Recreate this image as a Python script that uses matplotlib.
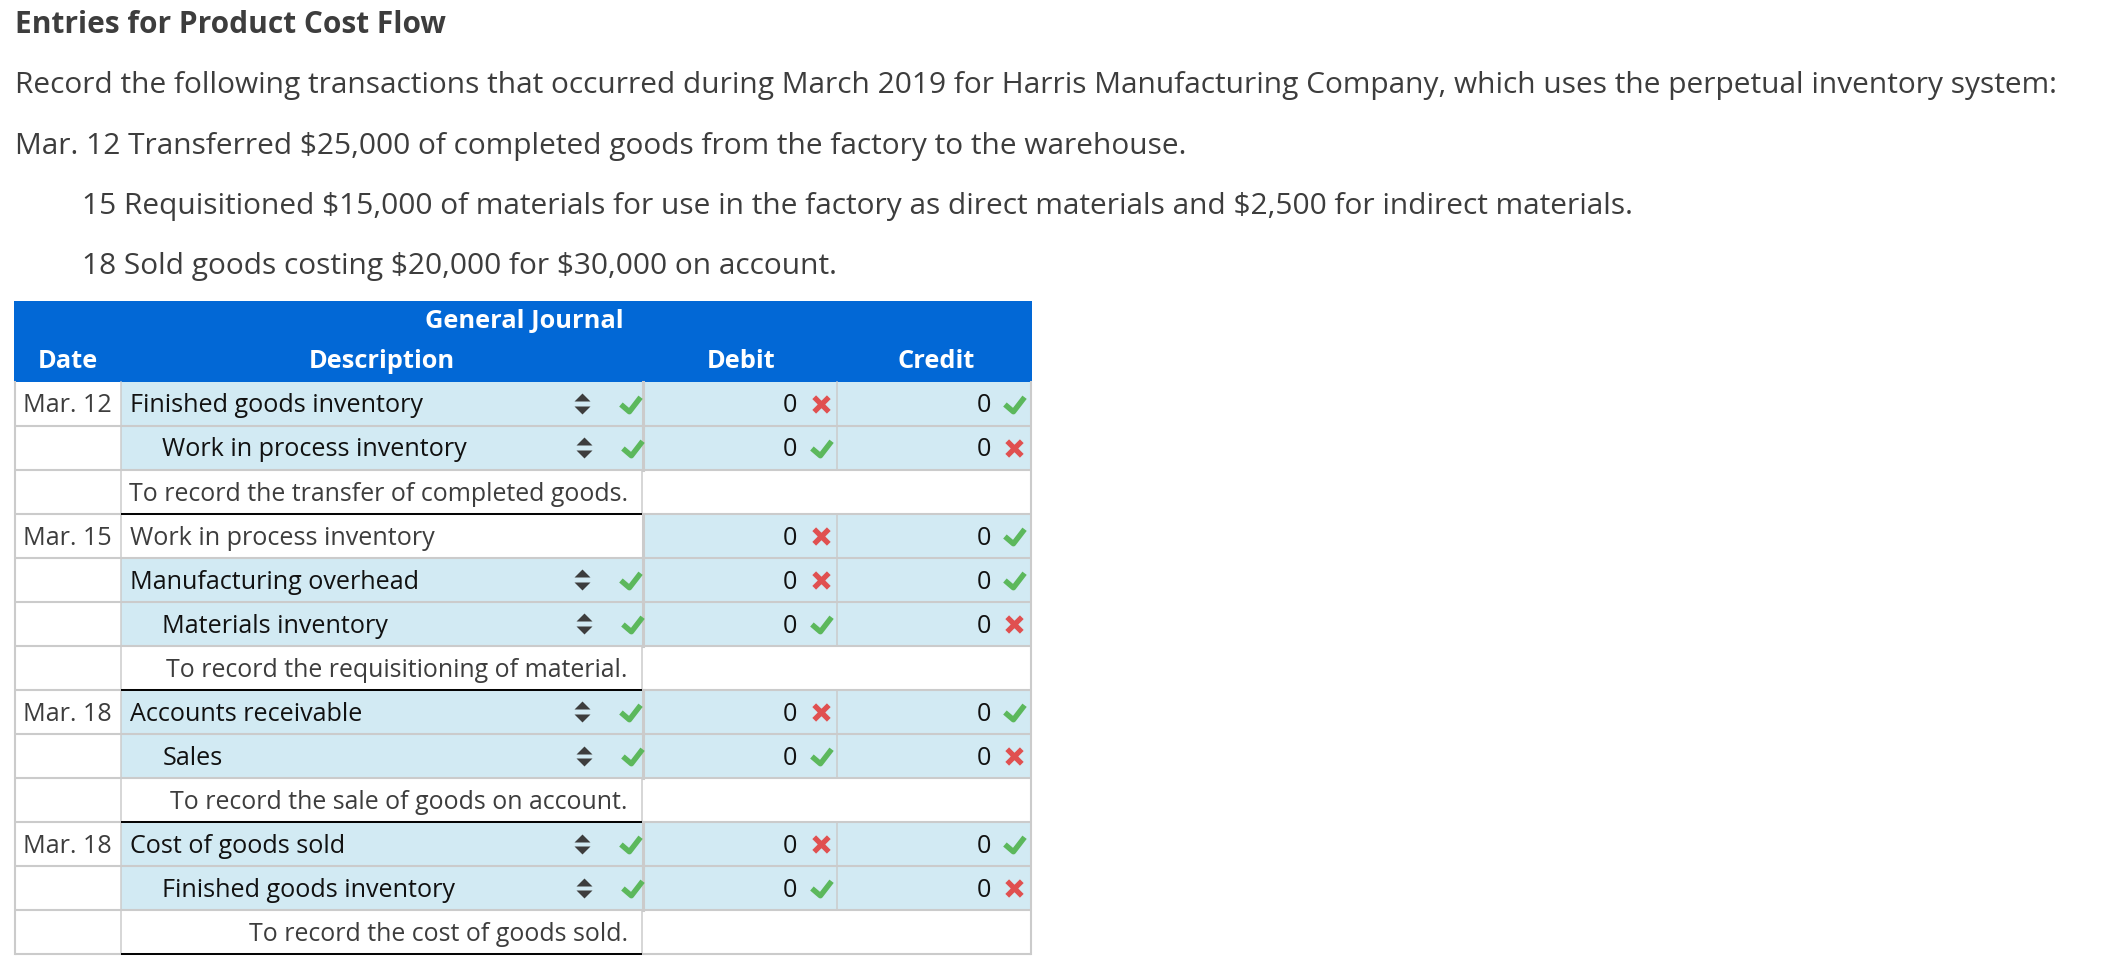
import matplotlib
matplotlib.use("Agg")
import matplotlib.pyplot as plt
from matplotlib.path import Path
from matplotlib.patches import Rectangle

plt.rcParams['font.family'] = ['Open Sans', 'DejaVu Sans']

W, H = 2112, 980
DARK = '#3d3d3d'
INK = '#111111'
BLUE_HEAD = '#0268d6'
CELL = '#d2eaf3'
GRID = '#cbcbcb'
GREEN = '#5cb85c'
RED = '#e05050'

heading = 'Entries for Product Cost Flow'
intro_lines = [
    'Record the following transactions that occurred during March 2019 for Harris Manufacturing Company, which uses the perpetual inventory system:',
    'Mar. 12 Transferred $25,000 of completed goods from the factory to the warehouse.',
    '15 Requisitioned $15,000 of materials for use in the factory as direct materials and $2,500 for indirect materials.',
    '18 Sold goods costing $20,000 for $30,000 on account.',
]

dates = ['Mar. 12', '', '', 'Mar. 15', '', '', '', 'Mar. 18', '', '', 'Mar. 18', '', '']
descriptions = [
    'Finished goods inventory', 'Work in process inventory', 'To record the transfer of completed goods.',
    'Work in process inventory', 'Manufacturing overhead', 'Materials inventory', 'To record the requisitioning of material.',
    'Accounts receivable', 'Sales', 'To record the sale of goods on account.',
    'Cost of goods sold', 'Finished goods inventory', 'To record the cost of goods sold.',
]
# 'a' account, 'i' indented account, 'f' fixed account (no dropdown), 'n' note
row_kinds = ['a', 'i', 'n', 'f', 'a', 'i', 'n', 'a', 'i', 'n', 'a', 'i', 'n']
debit_vals = ['0', '0', '', '0', '0', '0', '', '0', '0', '', '0', '0', '']
credit_vals = ['0', '0', '', '0', '0', '0', '', '0', '0', '', '0', '0', '']
debit_ok = [False, True, None, False, False, True, None, False, True, None, False, True, None]
credit_ok = [True, False, None, True, True, False, None, True, False, None, True, False, None]

# table grid, in pixels of the picture
X_LEFT, X_DATE, X_DESC, X_DEBIT, X_RIGHT = 15, 121, 642, 837, 1031
Y_HEAD, Y_BODY, ROW_H = 300.5, 381.6, 44.05

FS_INTRO = 21.52
FS_CELL = 18.05
FS_NOTE = 17.92
FS_HEAD = 18.3

CHECK = Path([(-0.95, 0), (-0.11, -0.72), (1, 0.72)], [Path.MOVETO, Path.LINETO, Path.LINETO])
CROSS = Path([(-1, -1), (1, 1), (-1, 1), (1, -1)], [Path.MOVETO, Path.LINETO, Path.MOVETO, Path.LINETO])
TRI_UP = Path([(-1, 0), (1, 0), (0, 1), (-1, 0)], closed=True)
TRI_DOWN = Path([(-1, 0), (1, 0), (0, -1), (-1, 0)], closed=True)


def draw_mark(ax, x, y, ok):
    if ok:
        ax.plot([x], [y], marker=CHECK, ms=14.5, mfc='none', mec=GREEN, mew=3.9, ls='none', zorder=5)
    else:
        ax.plot([x], [y], marker=CROSS, ms=10.5, mfc='none', mec=RED, mew=3.8, ls='none', zorder=5)


def draw_table(ax):
    ax.add_patch(Rectangle((X_LEFT - 1, Y_HEAD), X_RIGHT - X_LEFT + 2, Y_BODY - Y_HEAD, color=BLUE_HEAD, lw=0))
    ax.text(524, 328, 'General Journal', color='white', fontsize=FS_HEAD, fontweight='bold', ha='center', va='baseline')
    ax.text(68, 367.5, 'Date', color='white', fontsize=FS_HEAD, fontweight='bold', ha='center', va='baseline')
    ax.text(382, 367.5, 'Description', color='white', fontsize=FS_HEAD, fontweight='bold', ha='center', va='baseline')
    ax.text(741.5, 367.5, 'Debit', color='white', fontsize=FS_HEAD, fontweight='bold', ha='center', va='baseline')
    ax.text(936, 367.5, 'Credit', color='white', fontsize=FS_HEAD, fontweight='bold', ha='center', va='baseline')

    for i, kind in enumerate(row_kinds):
        top = Y_BODY + i * ROW_H
        bot = top + ROW_H
        mid = top + ROW_H / 2
        base = mid + 8.8
        if kind in 'ai':
            ax.add_patch(Rectangle((X_DATE, top), X_DESC - X_DATE, ROW_H, color=CELL, lw=0))
        if kind != 'n':
            ax.add_patch(Rectangle((X_DESC, top), X_RIGHT - X_DESC, ROW_H, color=CELL, lw=0))

        # cell borders
        ax.plot([X_LEFT, X_RIGHT], [bot, bot], color=GRID, lw=1.5, zorder=2, solid_capstyle='butt')
        ax.plot([X_DATE, X_DATE], [top, bot], color=GRID, lw=1.1, zorder=2)
        if kind == 'n':
            ax.plot([X_DESC, X_DESC], [top, bot], color=GRID, lw=1.1, zorder=2)
            ax.plot([X_DATE, X_DESC], [bot, bot], color='black', lw=1.4, zorder=3, solid_capstyle='butt')
        else:
            ax.plot([X_DESC + 0.5, X_DESC + 0.5], [top, bot], color=GRID, lw=2.2, zorder=2)
            ax.plot([X_DEBIT, X_DEBIT], [top, bot], color=GRID, lw=1.1, zorder=2)

        if dates[i]:
            ax.text(112, base, dates[i], color=DARK, fontsize=FS_CELL, ha='right', va='baseline')
        if kind == 'n':
            ax.text(628, base, descriptions[i], color=DARK, fontsize=FS_NOTE, ha='right', va='baseline')
            continue
        text_x = 162.5 if kind == 'i' else 130.5
        text_col = DARK if kind == 'f' else INK
        ax.text(text_x, base, descriptions[i], color=text_col, fontsize=FS_CELL, ha='left', va='baseline')
        if kind != 'f':
            shift = 2 if kind == 'i' else 0
            ax.plot([582 + shift], [mid - 2.5], marker=TRI_UP, ms=11.5, mfc=DARK, mew=0, ls='none', zorder=5)
            ax.plot([582 + shift], [mid + 2.0], marker=TRI_DOWN, ms=11.5, mfc=DARK, mew=0, ls='none', zorder=5)
            draw_mark(ax, 630 + shift, mid, True)
        ax.text(797, base, debit_vals[i], color=INK, fontsize=FS_CELL, ha='right', va='baseline')
        draw_mark(ax, 821, mid, debit_ok[i])
        ax.text(991, base, credit_vals[i], color=INK, fontsize=FS_CELL, ha='right', va='baseline')
        draw_mark(ax, 1014, mid, credit_ok[i])

    # outer lines
    ax.plot([X_LEFT, X_LEFT], [Y_BODY, Y_BODY + 13 * ROW_H], color=GRID, lw=1.5, zorder=2)
    ax.plot([X_RIGHT, X_RIGHT], [Y_BODY, Y_BODY + 13 * ROW_H], color=GRID, lw=1.5, zorder=2)


def main():
    fig = plt.figure(figsize=(W / 100, H / 100), dpi=100)
    ax = fig.add_axes([0, 0, 1, 1])
    ax.set_xlim(0, W)
    ax.set_ylim(H, 0)
    ax.axis('off')

    ax.text(15, 33, heading, color=DARK, fontsize=21.5, fontweight='bold', ha='left', va='baseline')
    ax.text(15, 93, intro_lines[0], color=DARK, fontsize=FS_INTRO, ha='left', va='baseline', parse_math=False)
    ax.text(15, 154, intro_lines[1], color=DARK, fontsize=FS_INTRO, ha='left', va='baseline', parse_math=False)
    ax.text(82, 214, intro_lines[2], color=DARK, fontsize=FS_INTRO, ha='left', va='baseline', parse_math=False)
    ax.text(82, 274, intro_lines[3], color=DARK, fontsize=FS_INTRO, ha='left', va='baseline', parse_math=False)

    draw_table(ax)
    fig.savefig('out.png', dpi=100)


if __name__ == '__main__':
    main()
